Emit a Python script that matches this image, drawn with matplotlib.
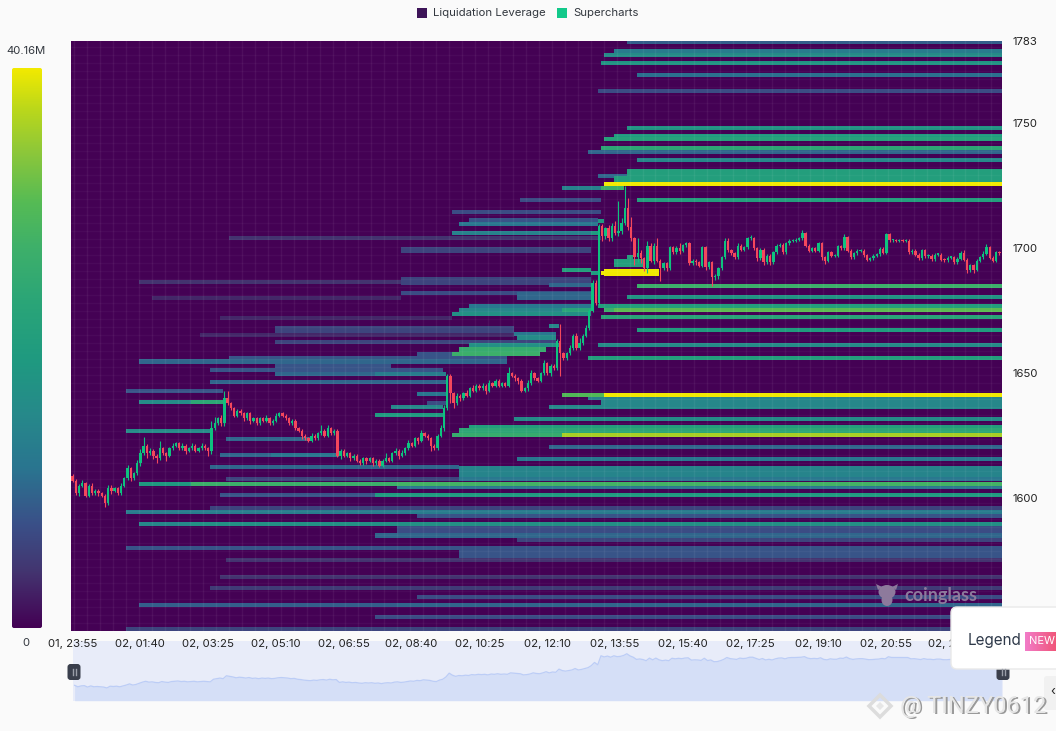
import numpy as np
import matplotlib
matplotlib.use("Agg")
import matplotlib.pyplot as plt
from matplotlib.colors import LinearSegmentedColormap
from matplotlib.patches import FancyBboxPatch, Rectangle, Ellipse, Polygon

plt.rcParams['font.family'] = ['Inter', 'DejaVu Sans']

MAX_VALUE = 40.16

# liquidation bands: price level, band height, first and last candle, value in M
band_price = [
    1782.4, 1778.8, 1777.2, 1774.0, 1769.2, 1762.8, 1748.0, 1744.8, 1743.6, 1740.0,
    1738.4, 1735.2, 1730.0, 1727.6, 1728.8, 1725.4, 1724.0, 1724.0, 1719.2, 1719.2,
    1714.2, 1711.2, 1709.4, 1706.0, 1706.0, 1710.8, 1704.0, 1699.2, 1691.2, 1690.0,
    1690.2, 1690.0, 1694.0, 1696.4, 1686.8, 1685.2, 1684.9, 1682.0, 1680.8, 1680.4,
    1676.8, 1675.2, 1675.2, 1672.4, 1667.2, 1676.8, 1675.2, 1675.2, 1673.6, 1668.8,
    1667.2, 1665.6, 1664.2, 1662.4, 1661.0, 1661.0, 1659.2, 1657.6, 1657.6, 1656.0,
    1656.0, 1654.6, 1652.8, 1651.2, 1649.6, 1649.6, 1646.4, 1642.8, 1641.6, 1641.2,
    1641.2, 1640.0, 1638.4, 1638.2, 1638.2, 1638.0, 1636.4, 1636.4, 1633.3, 1631.6,
    1628.5, 1626.9, 1626.9, 1625.2, 1625.2, 1623.6, 1620.4, 1617.2, 1617.2, 1615.6,
    1612.4, 1610.4, 1607.6, 1607.6, 1605.6, 1605.6, 1605.6, 1604.2, 1601.0, 1601.0,
    1596.1, 1594.4, 1592.8, 1589.6, 1589.6, 1587.6, 1585.0, 1583.2, 1580.0, 1578.2,
    1575.2, 1568.6, 1564.0, 1560.4, 1557.2, 1557.2, 1552.4, 1547.6, 1686.4, 1680.0,
    1672.0, 1665.2]
band_height = [
    1.4, 2, 1.6, 1.8, 1.6, 1.6, 1.6, 1.8, 1.8, 1.8,
    1.6, 1.6, 2.8, 2.4, 1.6, 1.6, 1.6, 1.6, 1.6, 1.6,
    1.6, 1.6, 1.6, 1.8, 1.8, 1.6, 1.6, 2.4, 1.8, 1.8,
    2.8, 1.6, 3.2, 1.6, 3.2, 1.6, 1.6, 1.6, 2.8, 1.6,
    1.8, 1.8, 1.8, 1.8, 1.6, 1.8, 1.8, 1.8, 1.8, 1.8,
    2.8, 1.8, 1.8, 1.6, 1.6, 1.6, 2.0, 1.8, 1.6, 1.6,
    1.6, 1.8, 1.6, 1.8, 1.8, 1.8, 1.6, 1.6, 1.6, 1.6,
    1.6, 1.6, 2.8, 1.6, 1.6, 1.6, 1.6, 1.6, 1.6, 1.6,
    1.6, 1.8, 1.6, 1.8, 1.8, 1.6, 1.6, 1.6, 1.6, 1.6,
    1.6, 4.4, 1.6, 1.6, 1.8, 1.8, 1.8, 1.2, 1.6, 1.6,
    1.6, 1.6, 1.6, 1.6, 1.6, 2.8, 2, 1.6, 1.6, 4.4,
    1.6, 1.6, 1.6, 1.6, 1.6, 1.6, 1.6, 1.6, 1.6, 1.6,
    1.6, 1.6]
band_start = [
    172, 168, 165, 164, 175, 163, 172, 168, 165, 164,
    160, 175, 172, 168, 163, 165, 152, 164, 175, 139,
    118, 123, 120, 118, 161, 163, 49, 102, 152, 161,
    165, 164, 168, 172, 102, 148, 175, 102, 138, 172,
    163, 165, 168, 164, 175, 123, 120, 152, 118, 148,
    63, 137, 138, 63, 123, 163, 120, 118, 107, 160,
    49, 21, 63, 43, 94, 63, 43, 17, 107, 152,
    165, 160, 164, 21, 37, 110, 148, 99, 94, 137,
    123, 120, 17, 118, 152, 48, 148, 46, 62, 138,
    43, 120, 48, 120, 21, 37, 101, 101, 46, 94,
    43, 17, 107, 21, 37, 101, 94, 138, 17, 120,
    48, 46, 43, 107, 21, 101, 94, 17, 21, 25,
    46, 40]
band_end = [
    288, 288, 288, 288, 288, 288, 288, 288, 288, 288,
    288, 288, 288, 288, 172, 288, 164, 171, 288, 164,
    164, 163, 163, 161, 163, 165, 164, 161, 161, 163,
    182, 165, 177, 174, 161, 161, 288, 161, 161, 288,
    288, 168, 288, 288, 288, 161, 152, 161, 161, 151,
    137, 150, 150, 150, 151, 288, 147, 145, 118, 288,
    135, 135, 99, 115, 116, 94, 116, 47, 116, 165,
    288, 288, 288, 37, 47, 116, 288, 115, 115, 288,
    288, 288, 43, 152, 288, 74, 288, 62, 83, 288,
    120, 288, 120, 288, 37, 101, 288, 288, 94, 288,
    288, 288, 288, 37, 288, 288, 288, 288, 288, 288,
    288, 288, 288, 288, 288, 288, 288, 288, 102, 102,
    118, 137]
band_value = [
    9, 13, 16, 18, 11, 7, 18, 20, 22, 24,
    10, 15, 21, 21, 10, 40.16, 14, 27, 21, 7,
    7, 8, 12, 14, 19, 19, 4, 6, 21, 19,
    40.16, 40.16, 21, 21, 6, 10, 27, 7, 10, 18,
    21, 27, 31, 23, 20, 12, 15, 23, 17, 15,
    6, 12, 16, 6, 17, 16, 26, 27, 8, 21,
    8, 10, 8, 8, 13, 10, 10, 8, 12, 30,
    40.16, 14, 15, 16, 24, 7, 15, 15, 19, 16,
    21, 24, 16, 26, 36, 10, 10, 10, 12, 12,
    10, 14.5, 6, 12, 19, 27, 28, 12, 8, 19,
    6, 13, 8, 15, 17, 7, 10, 6, 8, 8,
    4, 4, 5, 7, 9, 10, 7, 6, 4, 3,
    3, 3]

# 5 minute candles, 24 hours, one row per hour
closes = [
    1607, 1602, 1605, 1606, 1601, 1605, 1602, 1603, 1602, 1601, 1598, 1604,
    1603, 1604, 1602, 1605, 1608, 1612, 1608, 1610, 1614, 1618, 1621, 1618,
    1619, 1617, 1616, 1620, 1618, 1617, 1620, 1621, 1622, 1620, 1621, 1619,
    1620, 1621, 1619, 1620, 1621, 1620, 1619, 1628, 1630, 1632, 1630, 1640,
    1638, 1636, 1633, 1635, 1634, 1632, 1634, 1631, 1632, 1630, 1632, 1631,
    1632, 1630, 1631, 1633, 1634, 1633, 1632, 1630, 1631, 1628, 1627, 1625,
    1624, 1623, 1625, 1624, 1626, 1627, 1625, 1628, 1626, 1627, 1617, 1619,
    1617, 1618, 1616, 1617, 1615, 1614, 1616, 1615, 1616, 1614, 1615, 1613,
    1615, 1616, 1615, 1618, 1619, 1617, 1618, 1620, 1622, 1621, 1624, 1623,
    1626, 1625, 1624, 1621, 1620, 1625, 1628, 1636, 1649, 1642, 1638, 1641,
    1640, 1642, 1641, 1644, 1643, 1645, 1644, 1645, 1643, 1646, 1645, 1647,
    1645, 1646, 1645, 1650, 1649, 1648, 1647, 1643, 1644, 1646, 1650, 1648,
    1647, 1650, 1654, 1650, 1653, 1652, 1663, 1658, 1656, 1658, 1660, 1665,
    1660, 1662, 1665, 1668, 1675, 1686, 1678, 1709, 1705, 1708, 1704, 1709,
    1706, 1707, 1710, 1716, 1708.5, 1704, 1696.5, 1698, 1696, 1692, 1701, 1695,
    1701, 1695, 1692, 1694, 1692, 1700.5, 1698.5, 1700.3, 1699, 1701.2, 1702, 1694,
    1695, 1694.5, 1693, 1700.5, 1692.5, 1694.5, 1688.5, 1689, 1692, 1696.5, 1703, 1699.2,
    1698, 1696.5, 1701, 1699.5, 1700.5, 1704, 1704, 1700, 1696, 1699.5, 1694.5, 1697,
    1694.5, 1698.5, 1701, 1701.5, 1698.5, 1702, 1703, 1703, 1703.5, 1704, 1706, 1701,
    1699, 1700, 1699, 1702, 1696.5, 1695, 1698.5, 1697, 1697, 1700.8, 1700, 1704.5,
    1699, 1696.5, 1698, 1699, 1699, 1697.2, 1695.5, 1696, 1697, 1697.6, 1699.8, 1698.3,
    1705.6, 1703.2, 1703.2, 1703, 1703.2, 1703, 1703, 1698.4, 1699, 1697.5, 1696, 1699.2,
    1696.8, 1697, 1695.6, 1697.5, 1697.5, 1695.5, 1695.2, 1696.3, 1696.5, 1694.5, 1695.8, 1698.3,
    1695.5, 1691.2, 1693.2, 1691.5, 1695, 1696.5, 1697.9, 1700.5, 1696.3, 1695, 1698.5, 1698]
wick_up = [
    .6, .6, .6, 1.2, .6, .6, 1.2, .6, .6, .6, .6, 1.2,
    1.2, .6, .6, 1.2, .6, 1.2, .6, .6, 1.2, 1.5, 3.6, .6,
    1.2, .6, .6, 3, .6, .6, .6, 1.2, .6, .6, 1.2, .6,
    .6, 1.2, .6, .6, 1.2, .6, .6, 3, 2.4, .6, 1.2, 3,
    3, .6, .6, .6, .6, .6, .6, .6, .6, .6, .6, .6,
    1.2, .6, .6, 1.2, .6, .6, .6, .6, .6, .6, .6, .6,
    .6, .6, 1.2, .6, .6, 2.4, .6, 1.2, .6, .6, .6, .6,
    .6, .6, .6, .6, .6, .6, .6, .6, .6, .6, .6, .6,
    .6, 2, .6, .6, 1.2, .6, 1.2, .6, 1.2, .6, .6, .6,
    1.2, .6, .6, .6, .6, .6, 1.2, 1.2, .6, .6, .6, 1.2,
    .6, .6, 1.2, .6, 1.2, .6, .6, 1.2, .6, 1.2, .6, .6,
    .6, .6, .6, 2.4, .6, .6, .6, .6, .6, 1.2, 1.2, .6,
    .6, .6, 1.2, .6, .6, .6, .6, 6.6, .6, .6, 1.2, .6,
    1.2, 2, .6, 1.2, .6, 1.2, 1.2, .6, .6, .6, 1.2, 1.2,
    2, 12, 2, 9, 4, 4, .6, 6, 1.2, .6, 2, 1.2,
    1.2, 3, .6, .6, .6, .6, .6, .6, 2, .6, .6, .6,
    .6, .6, .6, .6, .6, .6, .6, .6, .6, .6, 1.2, 1.2,
    .6, .6, 1.2, .6, .6, .6, 1.2, .6, .6, .6, .6, .6,
    .6, .6, .6, .6, .6, .6, .6, .6, .6, .6, 1.2, .6,
    .6, .6, .6, .6, .6, .6, .6, .6, .6, .6, .6, 1.2,
    .6, .6, .6, .6, .6, .6, .6, .6, .6, .6, .6, .6,
    .6, .6, .6, .6, .6, .6, .6, .6, .6, .6, .6, .6,
    .6, .6, .6, .6, .6, .6, .6, .6, .6, .6, .6, .6,
    1.2, .6, .6, .6, .6, .6, 1.2, 1.2, .6, .6, .6, .6]
wick_dn = [
    .6, .6, 1.2, .6, .6, .6, .6, .6, 1.2, .6, 1.5, .6,
    1.2, .6, .6, .6, .6, .6, 1.2, .6, .6, 1.2, .6, 2,
    .6, 1.2, 2, .6, .6, 2, .6, .6, .6, .6, .6, 1.2,
    .6, .6, .6, .6, .6, .6, 2, 1.2, .6, .6, 1.2, 1.2,
    .6, .6, .6, .6, .6, 1.2, .6, 1.2, .6, .6, .6, .6,
    .6, .6, .6, .6, .6, .6, .6, .6, .6, .6, .6, 1.2,
    .6, .6, .6, .6, .6, .6, .6, .6, .6, .6, .6, 1.2,
    .6, .6, 1.2, .6, .6, .6, .6, 1.2, .6, 1.2, .6, .6,
    .6, .6, .6, .6, .6, 1.2, .6, .6, .6, .6, .6, 1.2,
    .6, .6, .6, 2, .6, .6, .6, 1.2, .6, 4, 2, .6,
    1.2, .6, .6, .6, .6, .6, .6, .6, 1.2, .6, .6, .6,
    .6, .6, .6, .6, .6, 1.2, 1.2, .6, .6, 1.2, .6, .6,
    .6, .6, .6, .6, 1.2, .6, .6, 9, .6, .6, .6, .6,
    .6, .6, .6, .6, .6, .6, .6, .6, 2, 1.2, 1.2, 1.2,
    .6, 1.2, 1.2, .6, 1.2, 1.2, 3, 2, 2, 1.2, 2, .6,
    1.2, .6, 5, .6, 1.2, .6, .6, .6, 1.2, .6, .6, .6,
    .6, 1.2, .6, .6, 1.2, .6, 3.5, 1.2, 1.2, .6, .6, .6,
    .6, .6, .6, .6, .6, .6, .6, .6, 1.2, .6, 1.2, .6,
    1.2, .6, .6, .6, .6, .6, .6, .6, .6, .6, .6, .6,
    .6, .6, .6, .6, 1.2, 1.2, .6, .6, .6, .6, .6, .6,
    .6, .6, .6, .6, .6, .6, .6, .6, .6, .6, .6, .6,
    .6, .6, .6, .6, .6, .6, .6, .6, .6, .6, .6, .6,
    .6, .6, .6, .6, .6, .6, .6, .6, .6, .6, .6, .6,
    .6, 1.2, .6, 1.2, .6, .6, .6, .6, .6, .6, .6, .6]

price_ticks = [1600, 1650, 1700, 1750, 1783]
time_labels = ["01, 23:55", "02, 01:40", "02, 03:25", "02, 05:10", "02, 06:55",
               "02, 08:40", "02, 10:25", "02, 12:10", "02, 13:55", "02, 15:40",
               "02, 17:25", "02, 19:10", "02, 20:55", "02, 22:40"]

W, H = 1056, 731
TEXT = "#33383f"
GREEN = "#0ec27f"
RED = "#f4475c"

heat_cmap = LinearSegmentedColormap.from_list("heat", [
    (0.0, "#440154"), (0.1, "#433570"), (0.185, "#3a5088"), (0.285, "#2a7590"),
    (0.385, "#268a8a"), (0.48, "#1f9a80"), (0.58, "#2aa578"), (0.68, "#3eb06a"),
    (0.76, "#55bb55"), (0.85, "#8cc73a"), (0.93, "#bcd81a"), (1.0, "#f2ea00")])


def px_axes(left, top, right, bottom, **kw):
    return fig.add_axes([left / W, 1 - bottom / H, (right - left) / W, (bottom - top) / H], **kw)


fig = plt.figure(figsize=(W / 100, H / 100), dpi=100, facecolor="#fafafa")

##### HEATMAP
ax = px_axes(71, 41, 1001, 631)
price_low, price_high = 1546.8, 1782.8
row_size = 0.4
n_rows = int(round((price_high - price_low) / row_size))
grid = np.zeros((n_rows, 288))
for p, h, s, e, v in zip(band_price, band_height, band_start, band_end, band_value):
    r0 = int(round((p - h / 2 - price_low) / row_size))
    r1 = int(round((p + h / 2 - price_low) / row_size))
    r0 = max(r0, 0)
    grid[r0:r1, s:e] = np.maximum(grid[r0:r1, s:e], v)
ax.imshow(grid, origin="lower", aspect="auto", cmap=heat_cmap, vmin=0, vmax=MAX_VALUE,
          extent=[0, 288, price_low, price_high], interpolation="nearest", zorder=1)

# faint texture of the heatmap cells
for i in range(0, 288, 4):
    ax.axvline(i + 1, color="white", alpha=0.055, lw=1, zorder=2)
for p in np.arange(price_low, price_high, 3.2):
    ax.axhline(p, color="white", alpha=0.035, lw=1, zorder=2)

##### CANDLES
closes = np.array(closes, dtype=float)
opens = np.r_[1609.0, closes[:-1]]
xs = np.arange(288) + 0.5
tops = np.maximum(opens, closes)
bottoms = np.minimum(opens, closes)
colors = [GREEN if c >= o else RED for o, c in zip(opens, closes)]
ax.vlines(xs, bottoms - np.array(wick_dn), tops + np.array(wick_up), colors=colors, lw=0.8, zorder=3)
ax.bar(xs, np.maximum(tops - bottoms, 0.5), bottom=bottoms, width=0.72, color=colors, lw=0, zorder=4)

ax.set_xlim(0, 288)
ax.set_ylim(price_low, price_high)
ax.set_xticks(xs[::21])
ax.set_xticklabels(time_labels, fontsize=8.2, color="#222222")
ax.yaxis.tick_right()
ax.set_yticks(price_ticks)
ax.set_yticklabels([str(t) for t in price_ticks], fontsize=8.2, color="#222222")
ax.tick_params(length=0, pad=6)
ax.tick_params(axis="y", pad=8)
for s in ax.spines.values():
    s.set_visible(False)

##### NAVIGATOR
nav = px_axes(73, 641, 1003, 700.7)
nav.set_facecolor("#e8ecf9")
nav.fill_between(xs, closes, 1554, color="#d5dff7", lw=0)
nav.plot(xs, closes, color="#bccdf6", lw=0.9)
nav.set_xlim(0, 288)
nav.set_ylim(1554, 1760)
nav.set_xticks([])
nav.set_yticks([])
for s in nav.spines.values():
    s.set_visible(False)
# the tick labels sit on top of the navigator band
ax.set_zorder(5)

##### COLORBAR
cax = px_axes(12, 68, 42, 628)
ramp = np.linspace(0, 1, 256).reshape(-1, 1)
im = cax.imshow(ramp, origin="lower", aspect="auto", cmap=heat_cmap, extent=[0, 30, 0, 560])
clip = FancyBboxPatch((0, 0), 30, 560, boxstyle="round,pad=0,rounding_size=2", transform=cax.transData,
                      fc="none", ec="none")
cax.add_patch(clip)
im.set_clip_path(clip)
cax.axis("off")

##### DECORATIONS in pixel coordinates
ov = fig.add_axes([0, 0, 1, 1], zorder=10)
ov.set_xlim(0, W)
ov.set_ylim(H, 0)
ov.axis("off")
ov.patch.set_alpha(0)

ov.text(26, 51, "40.16M", ha="center", va="center", fontsize=8.2, color=TEXT)
ov.text(26, 643, "0", ha="center", va="center", fontsize=8.2, color=TEXT)

ov.add_patch(Rectangle((417, 8), 10, 10, fc="#3d1458", ec="none"))
ov.text(433, 13, "Liquidation Leverage", va="center", fontsize=8.2, color=TEXT)
ov.add_patch(Rectangle((557, 8), 10, 10, fc="#12c98a", ec="none"))
ov.text(573, 13, "Supercharts", va="center", fontsize=8.2, color=TEXT)

# navigator handles
for hx in (74, 1003):
    ov.add_patch(FancyBboxPatch((hx - 6.5, 664), 13, 16, boxstyle="round,pad=0,rounding_size=3",
                                fc="#3a3f4c", ec="none"))
    ov.plot([hx - 1.5, hx - 1.5], [669, 675], color="#9a9ea8", lw=1)
    ov.plot([hx + 1.5, hx + 1.5], [669, 675], color="#9a9ea8", lw=1)

# coinglass mark
mark = "#8d7a9c"
ov.add_patch(Ellipse((887, 592), 17, 14, fc=mark, ec="none"))
ov.add_patch(Ellipse((887, 600), 11, 12, fc=mark, ec="none"))
ov.add_patch(Polygon([(876, 584), (882, 587), (878, 590)], fc=mark, ec="none"))
ov.add_patch(Polygon([(898, 584), (892, 587), (896, 590)], fc=mark, ec="none"))
ov.text(904, 595, "coinglass", va="center", fontsize=13, fontweight="bold", color=mark, family=["Lato", "DejaVu Sans"])

# legend card, covers the last time label
ov.add_patch(FancyBboxPatch((951, 607), 130, 62, boxstyle="round,pad=0,rounding_size=6",
                            fc="white", ec="#e9e9e9", lw=1))
ov.text(968, 641, "Legend", va="center", fontsize=11, color="#2f3a4a")
badge_ax = px_axes(1025, 632, 1056, 651, zorder=11)
badge_ax.imshow(np.linspace(0, 1, 64).reshape(1, -1), aspect="auto",
                cmap=LinearSegmentedColormap.from_list("b", ["#f27cc8", "#f0567a"]))
badge_ax.axis("off")
ov2 = fig.add_axes([0, 0, 1, 1], zorder=12)
ov2.set_xlim(0, W)
ov2.set_ylim(H, 0)
ov2.axis("off")
ov2.patch.set_alpha(0)
ov2.text(1029, 641, "NEW", va="center", fontsize=8, color="white")

# button at the right edge
ov2.add_patch(FancyBboxPatch((1044, 676), 30, 34, boxstyle="round,pad=0,rounding_size=3", fc="#f1f1f1", ec="none"))
ov2.text(1053, 692, "‹", ha="center", va="center", fontsize=9, color="#222222")

# watermark
ov2.text(901.6, 707.6, "@ TINZY0612", va="center", fontsize=17, color="#9a9a9a", family=["Roboto", "DejaVu Sans"])
ov2.text(900, 706, "@ TINZY0612", va="center", fontsize=17, color="#e6e6e6", family=["Roboto", "DejaVu Sans"])
ov2.add_patch(Polygon([(880, 695), (891, 706), (880, 717), (869, 706)], fc="none", ec="#dcdcdc", lw=2.5))
ov2.add_patch(Polygon([(880, 702), (884, 706), (880, 710), (876, 706)], fc="#e6e6e6", ec="none"))

fig.savefig("out.png", dpi=100, facecolor=fig.get_facecolor())
